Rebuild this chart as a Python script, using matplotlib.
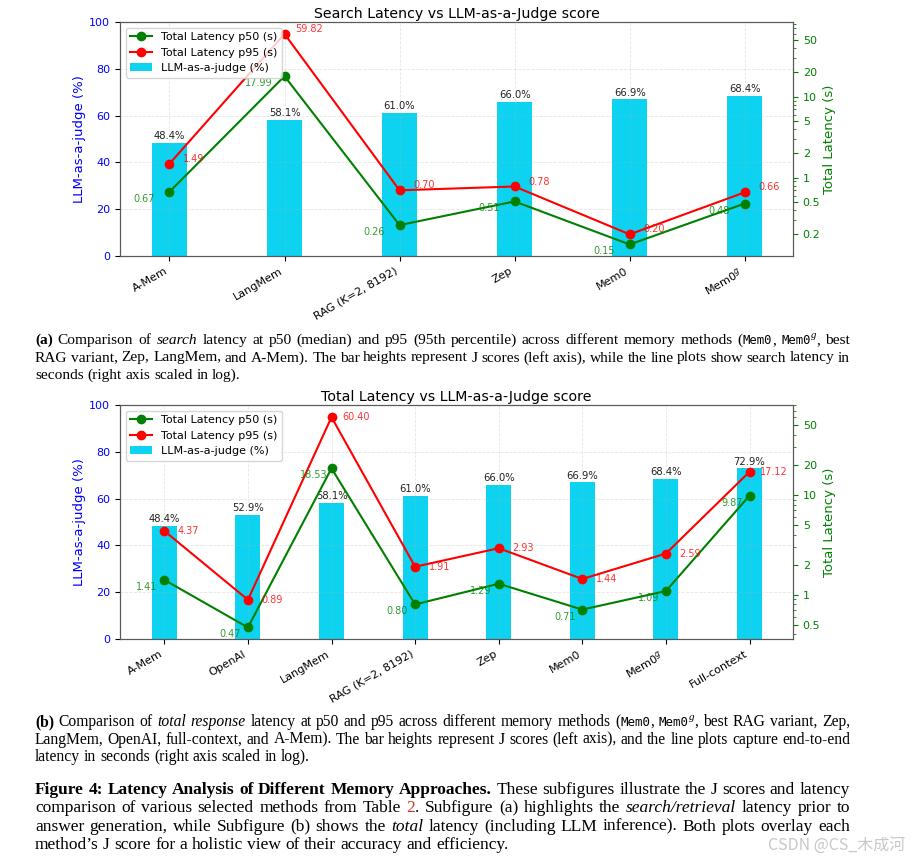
import re
import numpy as np
import matplotlib
matplotlib.use('Agg')
import matplotlib.pyplot as plt
from matplotlib.ticker import FixedLocator, FuncFormatter, NullFormatter

# search latency panel (a)
search_names = ['A-Mem', 'LangMem', 'RAG (K=2, 8192)', 'Zep', 'Mem0', 'Mem0$^g$']
search_judge = [48.4, 58.1, 61.0, 66.0, 66.9, 68.4]
search_p50 = [0.67, 17.99, 0.26, 0.51, 0.15, 0.48]
search_p95 = [1.49, 59.82, 0.70, 0.78, 0.20, 0.66]

# total latency panel (b)
total_names = ['A-Mem', 'OpenAI', 'LangMem', 'RAG (K=2, 8192)', 'Zep', 'Mem0', 'Mem0$^g$', 'Full-context']
total_judge = [48.4, 52.9, 58.1, 61.0, 66.0, 66.9, 68.4, 72.9]
total_p50 = [1.41, 0.47, 18.53, 0.80, 1.29, 0.71, 1.09, 9.87]
total_p95 = [4.37, 0.89, 60.40, 1.91, 2.93, 1.44, 2.59, 17.12]

W, H = 915, 861
BAR = '#0dd3f0'

fig = plt.figure(figsize=(W / 100, H / 100), dpi=100)


def panel(rect, names, judge, p50, p95, title, ylim2, ticks2, g_dx, g_fy, r_dx, r_fy):
    ax1 = fig.add_axes(rect)
    x = np.arange(len(names))
    bars = ax1.bar(x, judge, width=0.3, color=BAR, label='LLM-as-a-judge (%)')
    for xi, v in zip(x, judge):
        ax1.text(xi, v + 0.8, f'{v:.1f}%', ha='center', va='bottom', fontsize=7.2, color='#222222')
    ax1.set_ylim(0, 100)
    ax1.set_xlim(x[0] - (0.43 if len(names) == 6 else 0.53), x[-1] + (0.42 if len(names) == 6 else 0.52))
    ax1.set_ylabel('LLM-as-a-judge (%)', color='blue', fontsize=9.5, labelpad=2)
    ax1.tick_params(axis='y', labelcolor='blue', labelsize=8)
    ax1.set_xticks(x)
    ax1.set_xticklabels(names, rotation=30, ha='right', fontsize=8)
    ax1.grid(True, linestyle='--', linewidth=0.6, alpha=0.3)
    ax1.set_title(title, fontsize=10.2, pad=3)

    ax2 = ax1.twinx()
    l1, = ax2.plot(x, p50, 'o-', color='green', ms=6, lw=1.5, label='Total Latency p50 (s)')
    l2, = ax2.plot(x, p95, 'o-', color='red', ms=6, lw=1.5, label='Total Latency p95 (s)')
    ax2.set_yscale('log')
    ax2.set_ylim(*ylim2)
    ax2.yaxis.set_major_locator(FixedLocator(ticks2))
    ax2.yaxis.set_major_formatter(FuncFormatter(lambda v, p: f'{v:g}'))
    ax2.yaxis.set_minor_formatter(NullFormatter())
    ax2.tick_params(axis='y', which='both', colors='green', labelsize=8)
    ax2.set_ylabel('Total Latency (s)', color='green', fontsize=9.5, labelpad=2)
    for xi, v in zip(x, p50):
        ax2.text(xi + g_dx, v * g_fy, f'{v:.2f}', ha='center', va='center', fontsize=7, color='green', alpha=0.8)
    for xi, v in zip(x, p95):
        ax2.text(xi + r_dx, v * r_fy, f'{v:.2f}', ha='center', va='center', fontsize=7, color='red', alpha=0.8)
    ax2.legend([l1, l2, bars], [l1.get_label(), l2.get_label(), bars.get_label()],
               loc='upper left', fontsize=8)
    for ax in (ax1, ax2):
        for s in ax.spines.values():
            s.set_color('0.35')


panel([120 / W, 1 - 256 / H, 673 / W, 234 / H], search_names, search_judge, search_p50, search_p95,
      'Search Latency vs LLM-as-a-Judge score', (0.108, 84), [0.2, 0.5, 1, 2, 5, 10, 20, 50],
      -0.22, 0.82, 0.21, 1.15)
panel([120 / W, 1 - 639 / H, 673 / W, 234 / H], total_names, total_judge, total_p50, total_p95,
      'Total Latency vs LLM-as-a-Judge score', (0.36, 80), [0.5, 1, 2, 5, 10, 20, 50],
      -0.21, 0.85, 0.29, 1.0)


# captions: ** bold, * italic, ` mono, ~ red, ^g superscript
def parse(line):
    segs = []
    bold = ital = mono = red = False
    for tok in re.split(r'(\*\*|\*|`|\^g|~)', line):
        if tok == '**':
            bold = not bold
        elif tok == '*':
            ital = not ital
        elif tok == '`':
            mono = not mono
        elif tok == '~':
            red = not red
        elif tok == '^g':
            segs.append(('g', 'sup'))
        elif tok:
            segs.append((tok, (bold, ital, mono, red)))
    words = [[]]
    for text, st in segs:
        for k, p in enumerate(text.split(' ')):
            if k > 0:
                words.append([])
            if p:
                words[-1].append((p, st))
    return [w for w in words if w]


def build(line, size):
    items = []
    for w in parse(line):
        objs = []
        for text, st in w:
            if st == 'sup':
                t = fig.text(0, 0, text, fontsize=size * 0.7, family='Liberation Serif',
                             style='italic', va='baseline')
            else:
                bold, ital, mono, red = st
                t = fig.text(0, 0, text, fontsize=size * 0.8 if mono else size,
                             family='DejaVu Sans Mono' if mono else 'Liberation Serif',
                             weight='bold' if bold else 'normal',
                             style='italic' if ital else 'normal',
                             color='#c0392b' if red else 'black', va='baseline')
            objs.append((t, st))
        items.append(objs)
    r = fig.canvas.get_renderer()
    widths = [[t.get_window_extent(r).width for t, _ in objs] for objs in items]
    return items, widths


def caption(lines, y0, dy, size, x0=35, x1=850):
    # pick the font size so the widest justified line fits with normal spaces
    fits = []
    for line in lines[:-1]:
        items, widths = build(line, size)
        nat = sum(sum(ws) for ws in widths) + (len(items) - 1) * size * 0.25 * 100 / 72
        fits.append((x1 - x0) / nat)
        for objs in items:
            for t, _ in objs:
                t.remove()
    size = size * min(fits)
    for li, line in enumerate(lines):
        items, widths = build(line, size)
        total = sum(sum(ws) for ws in widths)
        if li < len(lines) - 1:
            gap = (x1 - x0 - total) / (len(items) - 1)
        else:
            gap = size * 0.25 * 100 / 72
        x = x0
        y = y0 + li * dy
        for objs, ws in zip(items, widths):
            for (t, st), w in zip(objs, ws):
                yy = y - size * 0.4 * 100 / 72 if st == 'sup' else y
                t.set_position((x / W, 1 - yy / H))
                x += w
            x += gap


caption(['**(a)** Comparison of *search* latency at p50 (median) and p95 (95th percentile) across different memory methods (`Mem0`, `Mem0`^g, best',
         'RAG variant, Zep, LangMem, and A-Mem). The bar heights represent J scores (left axis), while the line plots show search latency in',
         'seconds (right axis scaled in log).'], 344, 17.5, 10)
caption(['**(b)** Comparison of *total response* latency at p50 and p95 across different memory methods (`Mem0`, `Mem0`^g, best RAG variant, Zep,',
         'LangMem, OpenAI, full-context, and A-Mem). The bar heights represent J scores (left axis), and the line plots capture end-to-end',
         'latency in seconds (right axis scaled in log).'], 726, 17.5, 10)
caption(['**Figure 4: Latency Analysis of Different Memory Approaches.** These subfigures illustrate the J scores and latency',
         'comparison of various selected methods from Table ~2~. Subfigure (a) highlights the *search/retrieval* latency prior to',
         'answer generation, while Subfigure (b) shows the *total* latency (including LLM inference). Both plots overlay each',
         'method\u2019s J score for a holistic view of their accuracy and efficiency.'], 794, 18.4, 10)

fig.text(905 / W, 1 - 850 / H, 'CSDN @CS_木成河', ha='right', va='baseline', fontsize=11.5,
         color='#c8c8c8', family=['Noto Sans CJK SC', 'DejaVu Sans'])

fig.savefig('out.png', dpi=100)
